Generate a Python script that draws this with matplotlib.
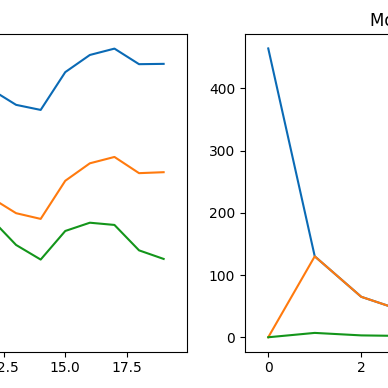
import matplotlib
matplotlib.use("Agg")
import matplotlib.pyplot as plt

# left panel (only the visible tail of the curves, epochs 12..19)
left_x = [12, 13, 14, 15, 16, 17, 18, 19]
left_blue = [82.5, 77.7, 76.1, 88.0, 93.4, 95.4, 90.5, 90.6]
left_orange = [48.4, 43.6, 41.8, 53.8, 59.3, 61.3, 56.2, 56.5]
left_green = [41.7, 33.6, 29.0, 38.0, 40.6, 39.9, 31.9, 29.2]

# right panel (visible head of the curves, epochs 0..3)
right_x = [0, 1, 2, 3]
right_blue = [464, 130, 65, 40]
right_orange = [0, 130, 65, 40]
right_green = [0, 7, 3, 2]

c_blue = '#0a6ab5'
c_orange = '#ff7a0e'
c_green = '#13951a'

fig = plt.figure(figsize=(3.88, 3.88), dpi=100)

W = 388.0
ax1 = fig.add_axes([-327 / W, 36.3 / W, 514 / W, 317.7 / W])
ax1.plot(left_x, left_blue, color=c_blue)
ax1.plot(left_x, left_orange, color=c_orange)
ax1.plot(left_x, left_green, color=c_green)
ax1.set_xlim(-0.95, 19.95)
ax1.set_ylim(0, 100)

ax2 = fig.add_axes([245 / W, 36.3 / W, 511.5 / W, 317.7 / W])
ax2.plot(right_x, right_blue, color=c_blue)
ax2.plot(right_x, right_orange, color=c_orange)
ax2.plot(right_x, right_green, color=c_green)
ax2.set_xlim(-0.5, 10.5)
ax2.set_title("Model loss", x=125 / 511.5, ha='left')

fig.savefig('out.png', dpi=100)
